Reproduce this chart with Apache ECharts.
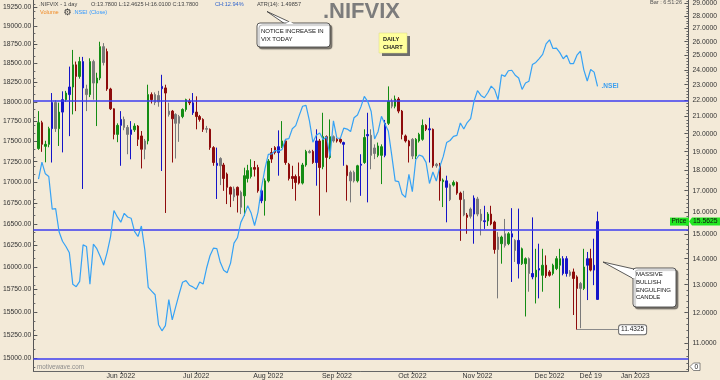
<!DOCTYPE html>
<html><head><meta charset="utf-8">
<script src="https://cdn.jsdelivr.net/npm/echarts@6/dist/echarts.min.js"></script>
<style>html,body{margin:0;padding:0;background:#f3ead8}#c{width:720px;height:380px}</style>
</head><body><div id="c"></div><script>
// ---------- DATA ----------
const holidays = ['2022-05-03','2022-08-09','2022-08-15','2022-08-31','2022-10-05','2022-10-26','2022-11-08'];
const firstBar = '2022-04-27', lastBar = '2022-12-21', futureEnd = '2023-01-16', leadSlot = '2022-04-26';
const xLabels = {'2022-06-01':'Jun 2022','2022-07-01':'Jul 2022','2022-08-01':'Aug 2022','2022-09-01':'Sep 2022',
  '2022-10-03':'Oct 2022','2022-11-01':'Nov 2022','2022-12-01':'Dec 2022','2022-12-19':'Dec 19','2023-01-01':'Jan 2023'};
const leftTicks = [15000,15250,15500,15750,16000,16250,16500,16750,17000,17250,17500,17750,18000,18250,18500,18750,19000,19250];
const rightTicks = [11,12,13,14,15,16,17,18,19,20,21,22,23,24,25,26,27,28,29];
const levels = [22.0, 15.21, 10.51];
const lowMark = 11.4325, livePrice = 15.5625;

const vixOpen = [19.17,20.64,19.29,19.40,20.29,21.86,20.29,21.27,22.04,22.36,
22.85,24.34,23.55,24.57,22.72,22.36,24.57,23.11,23.44,25.64,
25.28,22.72,21.47,19.96,20.48,20.83,20.36,20.22,20.22,20.44,
19.87,19.59,19.59,22.36,22.36,21.90,22.74,22.79,21.33,21.33,
21.13,20.60,21.00,21.43,21.94,21.84,21.27,21.00,20.83,20.25,
20.25,19.22,18.38,18.25,18.29,17.82,17.16,16.70,17.16,16.21,
16.75,17.60,17.70,18.16,18.16,16.52,16.52,17.48,18.95,19.22,
18.95,19.27,19.59,18.33,17.70,17.70,17.70,17.37,18.29,19.01,
19.01,18.42,19.59,18.20,19.83,18.69,19.83,19.68,19.68,19.50,
18.25,17.48,17.91,17.48,18.33,18.42,19.95,19.91,18.90,18.80,
18.80,18.80,20.60,21.93,21.63,22.08,21.33,19.87,19.59,19.68,
18.76,19.59,19.68,20.48,20.28,20.25,18.33,18.33,17.44,17.48,
17.27,17.27,17.40,16.88,16.57,15.86,15.80,16.64,15.90,15.90,
15.60,15.59,15.90,15.54,14.37,14.61,15.03,14.61,15.03,14.75,
14.75,13.80,13.80,14.00,13.42,13.29,13.61,13.35,13.74,13.48,
13.42,13.61,13.74,14.00,14.00,13.48,13.48,13.29,12.86,12.86,
13.74,14.00,13.55,12.4625];
const vixClose = [20.64,19.40,19.40,20.29,21.86,20.29,21.27,22.04,22.46,22.85,
24.34,23.55,24.57,22.79,22.36,24.57,23.11,23.44,25.64,24.50,
22.72,21.47,19.96,20.48,20.83,20.36,19.96,19.96,20.44,19.68,
19.13,19.13,22.36,22.04,21.86,22.30,22.89,22.46,21.13,20.87,
20.60,21.00,21.43,22.04,21.84,21.23,21.00,20.83,20.25,20.30,
19.22,18.42,18.27,18.63,17.60,17.16,16.83,17.08,16.78,16.92,
17.74,18.00,18.16,18.07,16.99,16.99,17.48,18.50,18.60,18.95,
19.27,19.59,18.42,17.60,17.60,17.40,17.37,18.29,19.01,18.95,
18.42,19.59,18.16,19.83,18.69,19.83,19.59,19.59,19.54,19.40,
17.74,17.91,17.48,18.25,18.28,19.78,19.88,18.80,19.20,19.31,
19.27,20.60,21.93,21.63,22.08,21.33,19.96,19.59,19.31,18.76,
19.68,19.96,20.48,20.25,20.22,18.25,18.25,17.48,17.52,17.16,
16.57,17.40,16.88,16.57,15.86,15.75,16.13,15.90,16.60,15.60,
15.56,15.90,15.46,14.37,14.89,14.89,14.54,15.03,14.89,14.33,
13.80,14.40,14.00,13.42,13.29,13.55,13.55,13.74,13.33,13.35,
13.74,14.00,14.00,13.42,13.42,13.35,13.23,12.86,13.04,13.67,
14.00,13.55,13.74,15.5625];
const vixLow = [19.10,18.99,18.43,19.24,18.42,20.10,19.31,18.96,21.90,19.86,
21.13,21.33,23.40,17.08,21.33,22.20,22.04,20.44,23.30,24.30,
22.60,21.40,19.68,19.52,18.25,20.20,18.86,18.59,20.10,19.31,
18.11,18.59,19.40,21.80,21.70,21.60,17.98,15.95,21.00,18.42,
18.63,19.54,20.90,21.30,21.70,21.10,20.25,20.70,20.10,20.05,
19.10,18.25,16.60,17.27,16.99,16.36,16.22,16.50,15.97,15.90,
15.82,17.40,17.60,17.70,16.90,16.40,15.83,17.40,18.40,18.85,
17.74,19.20,18.30,17.50,17.08,16.52,17.30,17.30,18.20,18.90,
18.35,17.24,15.83,18.07,16.92,18.60,19.50,19.50,19.45,18.25,
16.52,16.44,17.40,17.40,16.75,18.35,16.44,18.07,18.60,18.70,
17.32,18.70,20.50,21.50,21.50,21.20,19.68,19.50,18.42,18.60,
18.60,19.50,19.60,20.15,18.42,18.15,18.15,16.52,16.22,15.53,
16.50,17.20,16.80,14.73,15.80,15.03,15.70,14.61,15.80,14.96,
15.24,15.37,15.40,14.20,12.50,13.80,14.45,14.55,13.10,13.87,
13.23,13.75,11.87,12.74,13.20,12.32,12.50,12.74,13.25,13.30,
13.35,13.55,12.15,13.35,13.30,13.30,11.92,11.4325,11.48,12.80,
12.44,13.50,12.98,12.4625];
const vixHigh = [21.33,20.75,19.60,20.40,22.46,22.00,21.85,22.57,22.60,24.22,
25.40,24.57,24.90,24.90,23.00,24.80,24.70,23.80,26.00,25.90,
25.50,22.80,21.50,20.60,21.33,21.00,20.50,20.73,20.60,20.50,
20.15,19.70,23.00,22.50,22.50,22.60,23.66,23.00,21.85,21.40,
21.20,21.10,21.50,22.10,22.10,22.46,22.25,21.10,20.90,20.45,
20.30,19.30,19.22,18.70,18.40,17.90,17.20,17.20,17.20,17.00,
18.15,18.30,18.59,18.50,18.30,17.10,17.60,18.60,19.20,19.30,
20.19,20.73,19.70,18.40,18.25,17.80,18.42,18.40,19.10,19.10,
19.10,20.25,19.70,21.23,19.90,20.83,19.90,19.75,19.75,19.55,
18.30,18.00,18.00,18.30,18.86,20.25,21.23,20.25,19.40,19.50,
19.40,20.80,22.89,22.10,22.30,22.20,21.40,19.95,19.65,19.75,
19.75,20.05,20.83,20.55,20.93,20.30,18.40,18.40,17.60,17.74,
17.35,17.50,17.45,16.95,16.99,15.95,16.20,16.77,16.70,16.13,
16.28,15.99,16.28,15.60,15.10,14.95,15.68,15.10,16.17,14.80,
16.15,14.45,14.05,14.05,15.75,14.40,14.61,14.40,14.13,13.55,
13.80,14.10,14.40,14.10,14.10,13.55,13.61,13.35,13.10,14.40,
14.27,14.40,14.82,16.01];
const vixColor = ('grggbkgbgb'+'grgbkgkggk'+'rrrgbkkbgr'+'rkgrkkbrkr'+'kkggrbrrrk'+
  'rrbkrrrkrk'+'gggrrbggrr'+'bgrrrrrggk'+'rbrgrgkrrb'+'rkkgbgbkkg'+
  'gbgkgrrrrk'+'gggrbrkrgb'+'kgrrkrkbkk'+'bgrrkgkgbk'+'bggkbgbgrr'+'gggbbkrrkg'+'brbb').split('');
const nseiClose = [17038,17245,17102,17069,16678,16683,16411,16301,16240,16167,
15808,15782,15842,16259,16240,15809,16266,16215,16125,16025,
16170,16352,16661,16585,16523,16628,16584,16570,16416,16356,
16478,16202,15774,15732,15692,15361,15294,15350,15638,15413,
15557,15699,15832,15850,15799,15780,15752,15835,15811,15990,
16133,16220,16216,16058,15967,15939,16049,16279,16341,16521,
16606,16719,16631,16484,16642,16930,17158,17340,17345,17388,
17382,17398,17525,17535,17659,17698,17825,17944,17956,17758,
17491,17577,17605,17523,17559,17313,17759,17543,17539,17666,
17655,17624,17798,17833,17936,18070,18004,17877,17531,17622,
17816,17718,17630,17327,17016,17007,16858,16818,17094,16887,
17274,17332,17315,17241,16984,17124,17014,17186,17312,17486,
17512,17564,17576,17731,17656,17737,17787,18012,18145,18083,
18053,18117,18203,18157,18028,18350,18329,18403,18410,18344,
18308,18160,18244,18267,18484,18513,18563,18618,18758,18813,
18697,18701,18642,18561,18609,18497,18497,18608,18660,18415,
18269,18420,18385,18199];

// ---------- CALENDAR ----------
function iso(d){return d.toISOString().slice(0,10);}
const categories = [leadSlot];
for (let d=new Date(firstBar+'T00:00:00Z'); iso(d)<=lastBar; d.setUTCDate(d.getUTCDate()+1)) {
  const wd=d.getUTCDay(); if (wd===0||wd===6||holidays.includes(iso(d))) continue; categories.push(iso(d));
}
for (let d=new Date(lastBar+'T00:00:00Z'); ; ) { d.setUTCDate(d.getUTCDate()+1); if (iso(d)>futureEnd) break; categories.push(iso(d)); }

const leftMinor=[], rightMinor=[];
for (let v=14900; v<=19300; v+=100) leftMinor.push(v);
for (let k=51; k<=146; k++) rightMinor.push(+(k*0.2).toFixed(1));

// ---------- CHART ----------
const FONT='"Liberation Sans", Arial, sans-serif';
const COLORS={g:'#148c14', r:'#8e0c0c', b:'#1414c8', k:'#7a7a7a'};
const candleData = vixOpen.map((o,i)=>{const c=COLORS[vixColor[i]];
  return {value:[i+1,o,vixClose[i],vixLow[i],vixHigh[i]], itemStyle:{color:c,color0:c,borderColor:c,borderColor0:c}};});
const nseiData = nseiClose.map((v,i)=>[i+1,v]);
const LMIN=14863, LMAX=19350, RMIN=10.16, RMAX=29.27;
const lowIdx = vixLow.indexOf(lowMark)+1;

const chart = echarts.init(document.getElementById('c'), null, {renderer:'canvas'});
const txt=(t,x,y,o)=>({type:'text',silent:true,z:50,style:Object.assign({text:t,x:x,y:y,fill:'#333',fontSize:5.6,fontFamily:FONT,verticalAlign:'middle'},o||{})});
const option = {
  animation:false,
  backgroundColor:'#f3ead8',
  grid:{left:32,right:30,top:0,bottom:7},
  xAxis:{type:'category',data:categories,boundaryGap:true,
    axisLine:{lineStyle:{color:'#666'}},
    axisTick:{show:true,alignWithLabel:true,interval:(i,v)=>!!xLabels[v],length:3,lineStyle:{color:'#666'}},
    axisLabel:{interval:(i,v)=>!!xLabels[v],formatter:v=>xLabels[v]||'',fontSize:7,color:'#333',margin:2,fontFamily:FONT},
    splitLine:{show:false}},
  yAxis:[
    {type:'log',position:'left',min:LMIN,max:LMAX,
     axisLine:{show:true,lineStyle:{color:'#555'}},
     axisTick:{show:true,inside:true,length:4,customValues:leftTicks,lineStyle:{color:'#555'}},
     axisLabel:{customValues:leftTicks,formatter:v=>(+v).toFixed(2),fontSize:6.8,color:'#333',margin:2,fontFamily:FONT},
     splitLine:{show:false}},
    {type:'log',position:'right',min:RMIN,max:RMAX,
     axisLine:{show:true,lineStyle:{color:'#555'}},
     axisTick:{show:true,inside:true,length:4,customValues:rightTicks,lineStyle:{color:'#555'}},
     axisLabel:{customValues:rightTicks,formatter:v=>(+v).toFixed(4),fontSize:6.8,color:'#333',margin:4,fontFamily:FONT},
     splitLine:{show:false}},
    {type:'log',position:'left',min:LMIN,max:LMAX,axisLine:{show:false},
     axisTick:{show:true,inside:true,length:2,customValues:leftMinor,lineStyle:{color:'#666'}},
     axisLabel:{show:false},splitLine:{show:false}},
    {type:'log',position:'right',min:RMIN,max:RMAX,axisLine:{show:false},
     axisTick:{show:true,inside:true,length:2,customValues:rightMinor,lineStyle:{color:'#666'}},
     axisLabel:{show:false},splitLine:{show:false}}
  ],
  series:[
    {type:'candlestick',name:'.NIFVIX',xAxisIndex:0,yAxisIndex:1,encode:{x:0,y:[1,2,3,4]},
     data:candleData,barWidth:2,itemStyle:{borderWidth:1},z:2,
     markLine:{silent:true,symbol:['none','none'],animation:false,
       lineStyle:{color:'#3c3cf0',width:1.6,type:'solid'},label:{show:false},
       data:levels.map(v=>({yAxis:v})).concat([
         [{coord:[lowIdx,lowMark],lineStyle:{color:'#8a8a8a',width:1},
           label:{show:true,position:'end',formatter:lowMark.toFixed(4),distance:1,fontSize:6.5,color:'#222',
             fontFamily:FONT,backgroundColor:'#fff',borderColor:'#666',borderWidth:1,borderRadius:2,padding:[1,2]}},
          {coord:[lowIdx+12,lowMark]}]
       ])}},
    {type:'line',name:'.NSEI',xAxisIndex:0,yAxisIndex:0,data:nseiData,showSymbol:false,z:5,
     lineStyle:{color:'#35a2f5',width:1.2},
     endLabel:{show:true,formatter:'.NSEI',color:'#3a9ef0',fontSize:6.5,fontWeight:'bold',fontFamily:FONT,distance:4}}
  ]
};
chart.setOption(option);
const py = chart.convertToPixel({yAxisIndex:1}, livePrice);
chart.setOption({graphic:[
  txt('.NIFVIX',323,12,{fontSize:22,fontWeight:'bold',fill:'#7c7c7c'}),
  txt('.NIFVIX - 1 day',39,4.5,{fill:'#444'}),
  txt('O:13.7800 L:12.4625 H:16.0100 C:13.7800',91,4.5,{fill:'#444'}),
  txt('CH:12.94%',215,4.5,{fill:'#3366cc'}),
  txt('ATR(14): 1.49857',257,4.5,{fill:'#444'}),
  txt('Volume',40,12.3,{fill:'#f08a24'}),
  txt('\u2699',63.5,12.3,{fontSize:9,fill:'#333',fontFamily:'DejaVu Sans'}),
  txt('.NSEI (Close)',73,12.3,{fill:'#3399ff'}),
  txt('Bar : 6:51:26',650,2,{fill:'#555'}),
  txt('motivewave.com',37,367.5,{fill:'#8c8c8c',fontSize:6.3}),
  // NOTICE callout
  {type:'polygon',z:48,silent:true,shape:{points:[[267,11.5],[285,24],[294,24]]},style:{fill:'#fff',stroke:'#333',lineWidth:0.8}},
  {type:'rect',z:49,silent:true,shape:{x:257,y:23,width:73,height:24,r:3},
   style:{fill:'#fff',stroke:'#333',lineWidth:0.8,shadowColor:'rgba(0,0,0,0.45)',shadowOffsetX:2,shadowOffsetY:2,shadowBlur:1}},
  {type:'polygon',z:49,silent:true,shape:{points:[[285.5,24],[293.5,24],[290,21]]},style:{fill:'#fff'}},
  txt('NOTICE INCREASE IN',261,31.5,{fill:'#111',fontSize:6}),
  txt('VIX TODAY',261,39.3,{fill:'#111',fontSize:6}),
  // DAILY CHART
  {type:'rect',z:48,silent:true,shape:{x:382,y:36,width:28,height:20},style:{fill:'#6e6e6e'}},
  {type:'rect',z:49,silent:true,shape:{x:379,y:33,width:28,height:20},style:{fill:'#ffff9c',stroke:'#d8d88a',lineWidth:0.5}},
  txt('DAILY',383,39.5,{fill:'#222',fontWeight:'bold',fontSize:5.6}),
  txt('CHART',383,47,{fill:'#222',fontWeight:'bold',fontSize:5.6}),
  // MASSIVE callout
  {type:'polygon',z:48,silent:true,shape:{points:[[603,262],[634,269],[634,279]]},style:{fill:'#fff',stroke:'#333',lineWidth:0.8}},
  {type:'rect',z:49,silent:true,shape:{x:633,y:268,width:43,height:39,r:3},
   style:{fill:'#fff',stroke:'#333',lineWidth:0.8,shadowColor:'rgba(0,0,0,0.45)',shadowOffsetX:2,shadowOffsetY:2,shadowBlur:1}},
  {type:'rect',z:49,silent:true,shape:{x:632,y:270,width:3,height:8},style:{fill:'#fff'}},
  txt('MASSIVE',636,274.3,{fill:'#111',fontSize:6}),
  txt('BULLISH',636,282,{fill:'#111',fontSize:6}),
  txt('ENGULFING',636,290,{fill:'#111',fontSize:6}),
  txt('CANDLE',636,297.5,{fill:'#111',fontSize:6}),
  // price tags
  {type:'rect',z:49,silent:true,shape:{x:670,y:py-4,width:19,height:8},style:{fill:'#22e622'}},
  txt('Price',671.5,py,{fill:'#111',fontSize:6.5}),
  {type:'polygon',z:49,silent:true,shape:{points:[[689,py],[692,py-4],[720,py-4],[720,py+4],[692,py+4]]},style:{fill:'#22e622'}},
  txt(livePrice.toFixed(4),693,py,{fill:'#111',fontSize:6.8}),
  // volume 0 tag
  {type:'polygon',z:49,silent:true,shape:{points:[[690,366.5],[693.5,363],[700,363],[700,370.5],[693.5,370.5]]},style:{fill:'#fff',stroke:'#555',lineWidth:0.7}},
  txt('0',694.5,366.8,{fill:'#111',fontSize:6.5})
]});
</script></body></html>
